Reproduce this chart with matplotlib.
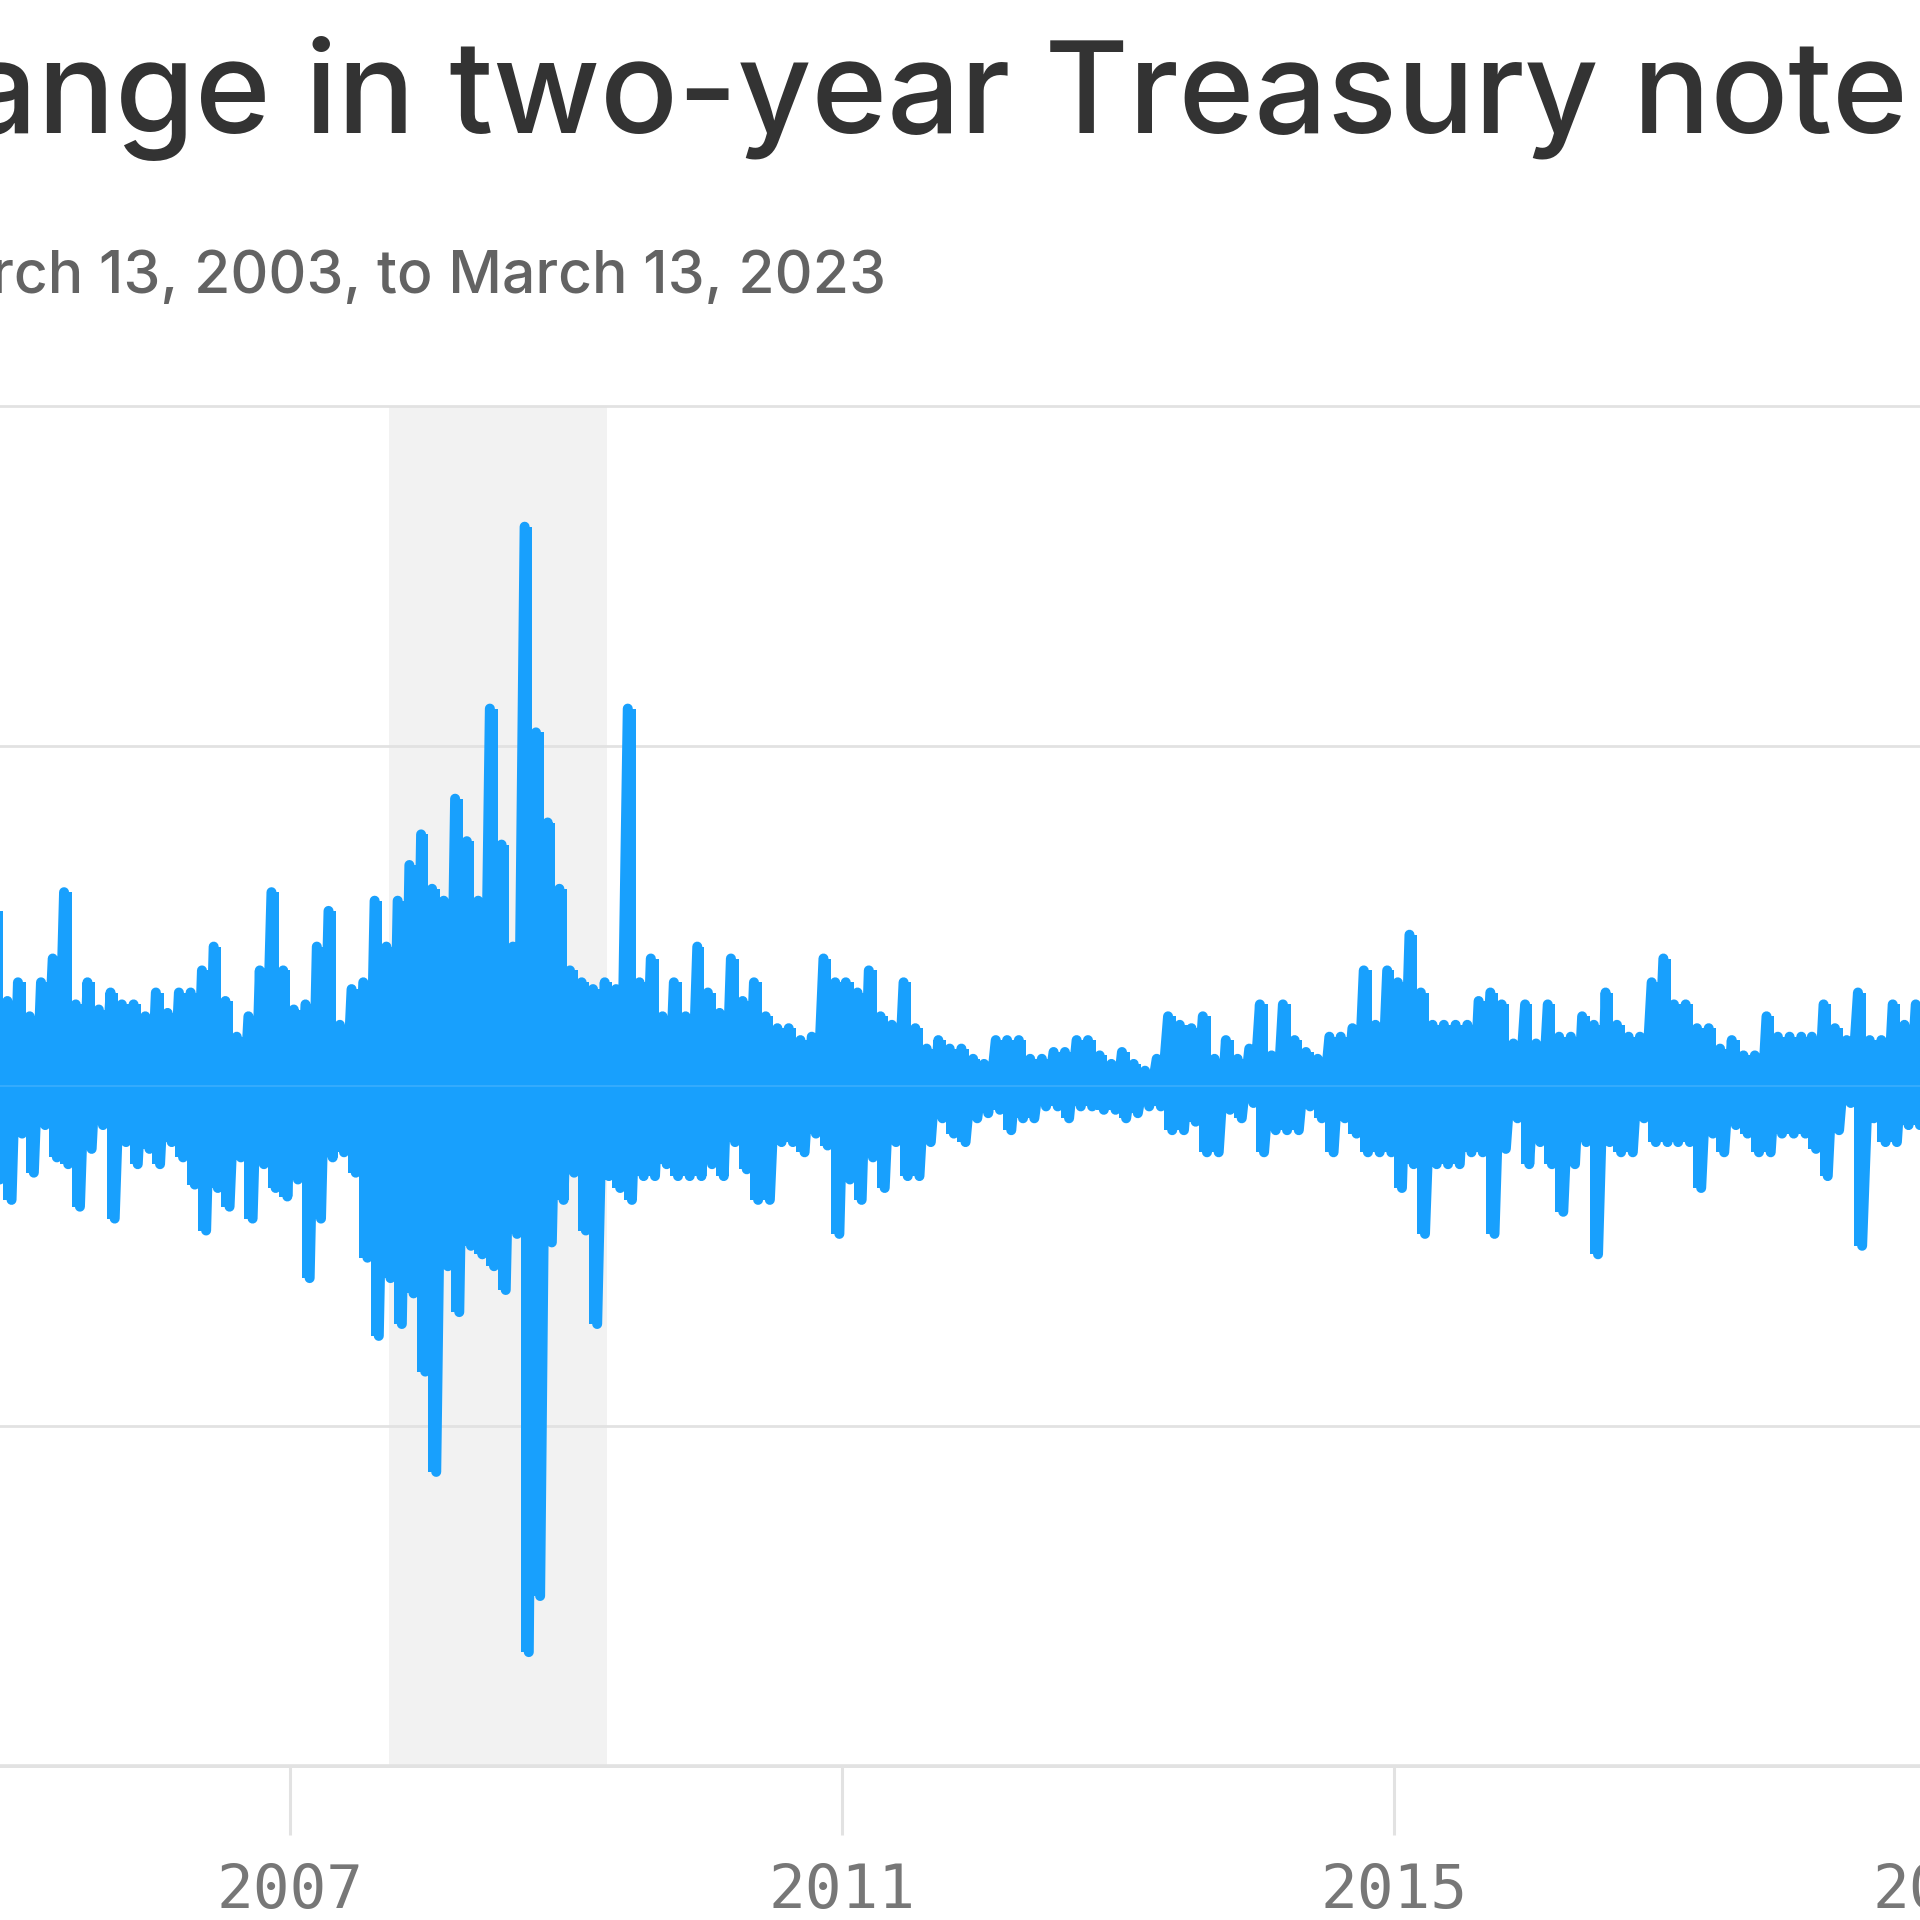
import numpy as np
import pandas as pd
import matplotlib
matplotlib.use('Agg')
import matplotlib.pyplot as plt
import matplotlib.dates as mdates

title = 'Change in two-year Treasury note yields'
subtitle = 'March 13, 2003, to March 13, 2023'
tick_dates = ['2007-03-13', '2011-03-13', '2015-03-13', '2019-03-13']
tick_labels = ['2007', '2011', '2015', '2019']
recession = ['2007-12-01', '2009-06-30']
first_bin = '2004-12-13'

# highest / lowest daily change in each monthly bin (bins start on the 13th), percentage points
# rows after the first: twelve bins from March 13 of 2005, 2006, ... 2017, last row from 2018
monthly_high = [
    0.082, 0.103, 0.050,
    0.061, 0.041, 0.061, 0.075, 0.114, 0.048, 0.061, 0.045, 0.055, 0.048, 0.048, 0.041,
    0.055, 0.043, 0.055, 0.055, 0.068, 0.082, 0.050, 0.029, 0.041, 0.068, 0.114, 0.068,
    0.045, 0.048, 0.082, 0.103, 0.036, 0.057, 0.061, 0.109, 0.082, 0.109, 0.130, 0.148,
    0.116, 0.109, 0.169, 0.144, 0.109, 0.222, 0.142, 0.082, 0.329, 0.208, 0.155, 0.116,
    0.068, 0.061, 0.057, 0.061, 0.057, 0.222, 0.061, 0.075, 0.041, 0.061, 0.041, 0.082,
    0.055, 0.043, 0.075, 0.050, 0.061, 0.041, 0.034, 0.034, 0.027, 0.029, 0.075, 0.061,
    0.061, 0.055, 0.068, 0.041, 0.036, 0.061, 0.034, 0.022, 0.027, 0.022, 0.022, 0.016,
    0.013, 0.027, 0.027, 0.027, 0.016, 0.016, 0.020, 0.020, 0.027, 0.027, 0.018, 0.013,
    0.020, 0.013, 0.009, 0.016, 0.041, 0.036, 0.034, 0.041, 0.016, 0.027, 0.016, 0.022,
    0.048, 0.018, 0.048, 0.027, 0.020, 0.016, 0.029, 0.029, 0.034, 0.068, 0.036, 0.068,
    0.061, 0.089, 0.055, 0.036, 0.036, 0.036, 0.036, 0.050, 0.055, 0.048, 0.025, 0.048,
    0.025, 0.048, 0.029, 0.029, 0.041, 0.036, 0.055, 0.036, 0.029, 0.029, 0.061, 0.075,
    0.048, 0.048, 0.034, 0.034, 0.022, 0.027, 0.018, 0.018, 0.041, 0.029, 0.029, 0.029,
    0.029, 0.048, 0.034, 0.027, 0.055, 0.027, 0.027, 0.048, 0.036, 0.048, 0.036,
]
monthly_low = [
    -0.055, -0.055, -0.067,
    -0.028, -0.051, -0.023, -0.042, -0.046, -0.071, -0.037, -0.023, -0.078, -0.033, -0.046, -0.037,
    -0.046, -0.033, -0.042, -0.058, -0.085, -0.060, -0.071, -0.042, -0.078, -0.046, -0.060, -0.065,
    -0.055, -0.113, -0.078, -0.042, -0.039, -0.051, -0.101, -0.147, -0.113, -0.140, -0.122, -0.168,
    -0.227, -0.106, -0.133, -0.094, -0.099, -0.106, -0.120, -0.087, -0.333, -0.300, -0.092, -0.067,
    -0.051, -0.085, -0.140, -0.053, -0.060, -0.067, -0.053, -0.053, -0.046, -0.053, -0.053, -0.053,
    -0.046, -0.053, -0.033, -0.049, -0.067, -0.067, -0.033, -0.033, -0.039, -0.028, -0.035, -0.087,
    -0.055, -0.067, -0.042, -0.060, -0.033, -0.053, -0.053, -0.033, -0.019, -0.028, -0.033, -0.019,
    -0.016, -0.014, -0.026, -0.019, -0.019, -0.012, -0.012, -0.019, -0.012, -0.012, -0.014, -0.014,
    -0.019, -0.016, -0.012, -0.012, -0.026, -0.026, -0.021, -0.039, -0.039, -0.014, -0.019, -0.010,
    -0.039, -0.026, -0.026, -0.026, -0.012, -0.019, -0.039, -0.019, -0.028, -0.039, -0.039, -0.039,
    -0.060, -0.046, -0.087, -0.046, -0.046, -0.046, -0.039, -0.039, -0.087, -0.037, -0.019, -0.046,
    -0.033, -0.046, -0.074, -0.046, -0.033, -0.099, -0.033, -0.039, -0.039, -0.019, -0.033, -0.033,
    -0.033, -0.033, -0.060, -0.028, -0.039, -0.023, -0.028, -0.039, -0.039, -0.028, -0.028, -0.028,
    -0.037, -0.053, -0.026, -0.010, -0.094, -0.019, -0.033, -0.033, -0.023, -0.023, -0.023,
]

blue = '#18a0fd'
grid_col = '#e2e2e2'

starts = pd.date_range(first_bin, periods=len(monthly_high), freq=pd.DateOffset(months=1))
centers = mdates.date2num(starts + pd.Timedelta(days=15))
hi = np.array(monthly_high)
lo = np.array(monthly_low)

# zig-zag line: the high of each bin, then its low
x_line = np.column_stack([mdates.date2num(starts + pd.Timedelta(days=10)),
                          mdates.date2num(starts + pd.Timedelta(days=21))]).ravel()
y_line = np.column_stack([hi, lo]).ravel()

fig = plt.figure(figsize=(19.2, 19.2), dpi=100)
# the chart is cropped on both sides: axes run past the right edge so the 2019 tick exists
ax_w = 2040
ax = fig.add_axes([0, 1 - 1766 / 1920, ax_w / 1920, 1360 / 1920])

ax.axvspan(mdates.datestr2num(recession[0]), mdates.datestr2num(recession[1]),
           color='#f2f2f2', lw=0, zorder=0)
ax.fill_between(centers, lo, hi, step='mid', color=blue, lw=0, zorder=2)
ax.plot(x_line, y_line, color=blue, lw=7.2, solid_joinstyle='round',
        solid_capstyle='round', zorder=2)
ax.axhline(0, color='white', alpha=0.12, lw=1.5, zorder=3)

ax.set_yticks([-0.4, -0.2, 0, 0.2, 0.4])
ax.yaxis.grid(True, color=grid_col, lw=2)
ax.set_axisbelow(True)
ax.tick_params(axis='y', length=0, labelleft=False)

ax.set_xticks(mdates.datestr2num(tick_dates))
ax.set_xticklabels(tick_labels, family='DejaVu Sans Mono')
ax.tick_params(axis='x', length=50, width=2.2, color=grid_col, pad=19,
               labelsize=44, labelcolor='#777777')

# 4 years = 552 px in the reference, tick 2007 at x = 290 px
d0 = mdates.datestr2num(tick_dates[0])
ppd = 552 / 1461
ax.set_xlim(d0 - 290 / ppd, d0 + (ax_w - 290) / ppd)
ax.set_ylim(-0.4, 0.4)
for gl in ax.get_ygridlines():
    gl.set_clip_on(False)

for s in ['left', 'right', 'top']:
    ax.spines[s].set_visible(False)
ax.spines['bottom'].set_color(grid_col)
ax.spines['bottom'].set_linewidth(2.6)
ax.set_facecolor('none')

renderer = fig.canvas.get_renderer()


def text_width(s, **kw):
    t = fig.text(0, 0, s, **kw)
    w = t.get_window_extent(renderer).width
    t.remove()
    return w


def fit_size(s, target, **kw):
    return 100 * target / text_width(s, fontsize=100, **kw)


title_kw = dict(family='Inter', fontweight='medium', color='#333333')
sub_kw = dict(family='Inter', fontweight='medium', color='#636363')

# the reference is cropped: "ange ... note" runs from x = -35 to 1908 px,
# "rch ... 2023" from x = -8 to 886 px
title_kw['fontsize'] = fit_size('ange in two-year Treasury note', 1943, **title_kw)
sub_kw['fontsize'] = fit_size('rch 13, 2003, to March 13, 2023', 894, **sub_kw)
tx = 1908 - text_width('Change in two-year Treasury note', **title_kw)
sx = 886 - text_width(subtitle, **sub_kw)
fig.text(tx / 1920, 1 - 133 / 1920, title, va='baseline', **title_kw)
fig.text(sx / 1920, 1 - 293 / 1920, subtitle, va='baseline', **sub_kw)

fig.savefig('out.png', dpi=100, facecolor='white')
